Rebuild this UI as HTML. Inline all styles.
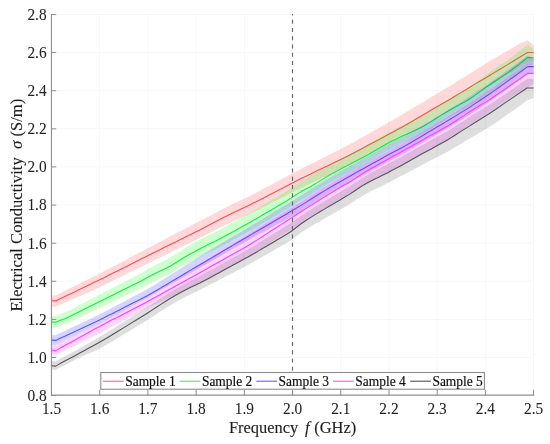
<!DOCTYPE html><html><head><meta charset="utf-8"><style>html,body{margin:0;padding:0;background:#fff}svg{display:block}</style></head><body><svg width="550" height="444" viewBox="0 0 550 444">
<rect width="550" height="444" fill="#fff"/>
<line x1="99.71" y1="14" x2="99.71" y2="395" stroke="#f7f7f7" stroke-width="1"/>
<line x1="147.92" y1="14" x2="147.92" y2="395" stroke="#f7f7f7" stroke-width="1"/>
<line x1="196.13" y1="14" x2="196.13" y2="395" stroke="#f7f7f7" stroke-width="1"/>
<line x1="244.34" y1="14" x2="244.34" y2="395" stroke="#f7f7f7" stroke-width="1"/>
<line x1="292.55" y1="14" x2="292.55" y2="395" stroke="#f7f7f7" stroke-width="1"/>
<line x1="340.76" y1="14" x2="340.76" y2="395" stroke="#f7f7f7" stroke-width="1"/>
<line x1="388.97" y1="14" x2="388.97" y2="395" stroke="#f7f7f7" stroke-width="1"/>
<line x1="437.18" y1="14" x2="437.18" y2="395" stroke="#f7f7f7" stroke-width="1"/>
<line x1="485.39" y1="14" x2="485.39" y2="395" stroke="#f7f7f7" stroke-width="1"/>
<line x1="533.60" y1="14" x2="533.60" y2="395" stroke="#f7f7f7" stroke-width="1"/>
<line x1="51" y1="357.51" x2="534" y2="357.51" stroke="#f7f7f7" stroke-width="1"/>
<line x1="51" y1="319.40" x2="534" y2="319.40" stroke="#f7f7f7" stroke-width="1"/>
<line x1="51" y1="281.28" x2="534" y2="281.28" stroke="#f7f7f7" stroke-width="1"/>
<line x1="51" y1="243.17" x2="534" y2="243.17" stroke="#f7f7f7" stroke-width="1"/>
<line x1="51" y1="205.06" x2="534" y2="205.06" stroke="#f7f7f7" stroke-width="1"/>
<line x1="51" y1="166.95" x2="534" y2="166.95" stroke="#f7f7f7" stroke-width="1"/>
<line x1="51" y1="128.84" x2="534" y2="128.84" stroke="#f7f7f7" stroke-width="1"/>
<line x1="51" y1="90.72" x2="534" y2="90.72" stroke="#f7f7f7" stroke-width="1"/>
<line x1="51" y1="52.61" x2="534" y2="52.61" stroke="#f7f7f7" stroke-width="1"/>
<line x1="51" y1="14.50" x2="534" y2="14.50" stroke="#f7f7f7" stroke-width="1"/>
<polygon points="51.5,295.3 55.8,295.4 60.0,293.2 64.8,290.9 69.6,288.5 74.5,286.1 79.3,283.7 84.1,281.3 88.9,278.9 93.7,276.5 98.6,274.1 100.0,273.4 103.4,271.6 108.2,269.1 113.0,266.5 117.9,264.0 122.7,261.4 127.5,258.9 132.3,256.3 137.1,253.8 142.0,251.2 146.8,248.7 150.0,247.0 151.6,246.2 156.4,243.7 161.2,241.2 166.1,238.6 170.9,236.1 175.7,233.6 180.5,231.1 185.3,228.6 190.2,226.1 195.0,223.6 199.8,221.1 200.0,221.0 204.6,218.5 209.5,216.0 214.3,213.4 219.1,210.8 223.9,208.3 228.7,205.9 233.6,203.6 238.4,201.3 243.2,199.0 248.0,196.7 250.0,195.7 252.8,194.3 257.7,191.8 262.5,189.2 267.3,186.7 272.1,184.2 276.9,181.6 281.8,179.1 286.6,176.6 291.4,174.0 296.2,171.5 300.0,169.6 301.0,169.0 305.9,166.5 310.7,164.1 315.5,161.7 320.3,159.2 325.2,156.8 330.0,154.3 334.8,151.9 339.6,149.5 344.4,147.0 349.3,144.5 350.0,144.1 354.1,141.9 358.9,139.1 363.7,136.4 368.5,133.7 373.4,130.9 378.2,128.2 383.0,125.5 387.8,122.7 392.6,120.0 397.5,117.2 400.0,115.7 402.3,114.4 407.1,111.5 411.9,108.6 416.8,105.7 421.6,102.9 426.4,100.0 431.2,97.1 436.0,94.2 440.9,91.3 445.7,88.4 450.0,85.8 450.5,85.5 455.3,82.5 460.1,79.5 465.0,76.5 469.8,73.5 474.6,70.5 479.4,67.6 484.2,64.6 489.1,61.6 493.9,58.6 495.0,57.9 498.7,55.8 503.5,53.0 508.4,50.3 513.2,47.5 518.0,44.7 520.0,43.6 527.6,40.2 533.6,45.2 533.6,61.5 527.6,62.5 520.0,67.1 518.0,68.3 513.2,71.2 508.4,74.1 503.5,77.1 498.7,80.0 495.0,82.2 493.9,82.9 489.1,85.8 484.2,88.7 479.4,91.5 474.6,94.4 469.8,97.3 465.0,100.2 460.1,103.1 455.3,106.0 450.5,108.9 450.0,109.2 445.7,111.7 440.9,114.5 436.0,117.3 431.2,120.1 426.4,122.9 421.6,125.7 416.8,128.5 411.9,131.4 407.1,134.2 402.3,136.9 400.0,138.2 397.5,139.6 392.6,142.2 387.8,144.8 383.0,147.4 378.2,149.9 373.4,152.5 368.5,155.1 363.7,157.7 358.9,160.2 354.1,162.8 350.0,164.9 349.3,165.3 344.4,167.6 339.6,169.9 334.8,172.2 330.0,174.5 325.2,176.7 320.3,179.0 315.5,181.3 310.7,183.6 305.9,185.8 301.0,188.1 300.0,188.7 296.2,190.5 291.4,192.9 286.6,195.4 281.8,197.8 276.9,200.2 272.1,202.6 267.3,205.1 262.5,207.5 257.7,209.9 252.8,212.3 250.0,213.7 248.0,214.7 243.2,216.9 238.4,219.1 233.6,221.2 228.7,223.4 223.9,225.7 219.1,228.1 214.3,230.5 209.5,233.0 204.6,235.4 200.0,237.8 199.8,237.9 195.0,240.3 190.2,242.7 185.3,245.0 180.5,247.4 175.7,249.8 170.9,252.2 166.1,254.6 161.2,256.9 156.4,259.3 151.6,261.7 150.0,262.5 146.8,264.1 142.0,266.5 137.1,268.8 132.3,271.2 127.5,273.6 122.7,275.9 117.9,278.3 113.0,280.7 108.2,283.1 103.4,285.4 100.0,287.1 98.6,287.7 93.7,289.9 88.9,292.0 84.1,294.2 79.3,296.4 74.5,298.5 69.6,300.7 64.8,302.8 60.0,304.8 55.8,306.9 51.5,306.5" fill="#ff0000" fill-opacity="0.15" stroke="none"/>
<polyline points="51.5,300.7 55.8,300.9 60.0,298.7 64.8,296.5 69.6,294.2 74.5,291.9 79.3,289.6 84.1,287.3 88.9,284.9 93.7,282.6 98.6,280.3 103.4,277.9 108.2,275.5 113.0,273.1 117.9,270.7 122.7,268.3 127.5,265.9 132.3,263.4 137.1,261.0 142.0,258.6 146.8,256.2 151.6,253.8 156.4,251.4 161.2,249.0 166.1,246.6 170.9,244.2 175.7,241.9 180.5,239.5 185.3,237.1 190.2,234.7 195.0,232.3 199.8,229.9 204.6,227.4 209.5,224.8 214.3,222.3 219.1,219.7 223.9,217.2 228.7,214.9 233.6,212.6 238.4,210.3 243.2,208.0 248.0,205.7 252.8,203.3 257.7,200.9 262.5,198.4 267.3,195.9 272.1,193.4 276.9,191.0 281.8,188.5 286.6,186.0 291.4,183.5 296.2,181.1 301.0,178.6 305.9,176.3 310.7,173.9 315.5,171.6 320.3,169.3 325.2,167.0 330.0,164.7 334.8,162.3 339.6,160.0 344.4,157.7 349.3,155.3 354.1,152.8 358.9,150.2 363.7,147.7 368.5,145.1 373.4,142.5 378.2,139.9 383.0,137.4 387.8,134.8 392.6,132.2 397.5,129.6 402.3,126.9 407.1,124.2 411.9,121.4 416.8,118.5 421.6,115.7 426.4,112.9 431.2,110.1 436.0,107.3 440.9,104.5 445.7,101.7 450.5,98.9 455.3,96.0 460.1,93.1 465.0,90.2 469.8,87.3 474.6,84.4 479.4,81.5 484.2,78.7 489.1,75.8 493.9,72.9 498.7,70.0 503.5,67.1 508.4,64.1 513.2,61.2 518.0,58.3 527.6,52.5 533.6,52.5" fill="none" stroke="#ff4a55" stroke-width="1.1" stroke-linejoin="round"/>
<polygon points="51.5,315.9 55.8,316.1 60.0,314.3 64.8,312.5 69.6,310.2 74.5,307.7 79.3,305.2 84.1,302.7 88.9,300.2 93.7,297.8 98.6,295.3 100.0,294.6 103.4,292.8 108.2,290.3 113.0,287.8 117.9,285.3 122.7,282.7 127.5,280.2 132.3,277.7 137.1,275.2 142.0,272.6 146.8,269.8 150.0,268.1 151.6,267.2 156.4,264.6 161.2,262.2 166.1,259.7 170.9,257.1 175.7,254.2 180.5,251.0 185.3,247.9 190.2,245.0 195.0,242.2 199.8,239.5 200.0,239.4 204.6,237.1 209.5,234.8 214.3,232.4 219.1,229.9 223.9,227.3 228.7,224.6 233.6,221.9 238.4,219.3 243.2,216.6 248.0,213.9 250.0,212.8 252.8,211.2 257.7,208.3 262.5,205.5 267.3,202.6 272.1,199.7 276.9,196.8 281.8,194.0 286.6,191.0 291.4,187.8 296.2,184.6 300.0,182.3 301.0,181.6 305.9,178.9 310.7,176.3 315.5,173.5 320.3,170.5 325.2,167.5 330.0,164.6 334.8,162.0 339.6,159.4 344.4,156.9 349.3,154.4 354.1,151.8 358.9,149.3 363.7,146.8 368.5,144.1 373.4,141.3 378.2,138.4 383.0,135.5 387.8,132.9 392.6,130.4 397.5,127.9 400.0,126.7 402.3,125.5 407.1,123.3 411.9,121.0 416.8,118.7 421.6,116.2 426.4,113.6 431.2,110.5 436.0,107.3 440.9,104.1 445.7,101.1 450.0,98.5 450.5,98.2 455.3,95.3 460.1,92.5 465.0,89.7 469.8,86.7 474.6,83.3 479.4,79.8 484.2,76.2 489.1,72.6 493.9,69.2 495.0,68.4 498.7,66.0 503.5,62.8 508.4,59.5 513.2,55.9 518.0,52.2 527.6,44.6 533.6,49.1 533.6,64.6 527.6,65.6 518.0,73.0 513.2,76.6 508.4,80.1 503.5,83.3 498.7,86.4 495.0,88.7 493.9,89.5 489.1,92.7 484.2,96.0 479.4,99.4 474.6,102.8 469.8,106.0 465.0,108.8 460.1,111.4 455.3,114.0 450.5,116.7 450.0,117.0 445.7,119.5 440.9,122.4 436.0,125.5 431.2,128.6 426.4,131.6 421.6,134.2 416.8,136.5 411.9,138.8 407.1,140.9 402.3,143.1 400.0,144.2 397.5,145.4 392.6,147.9 387.8,150.5 383.0,153.2 378.2,156.1 373.4,159.0 368.5,161.9 363.7,164.6 358.9,167.2 354.1,169.8 349.3,172.4 344.4,174.9 339.6,177.5 334.8,180.1 330.0,182.8 325.2,185.7 320.3,188.8 315.5,191.8 310.7,194.7 305.9,197.4 301.0,200.1 300.0,200.8 296.2,203.1 291.4,206.3 286.6,209.4 281.8,212.3 276.9,215.1 272.1,217.9 267.3,220.7 262.5,223.6 257.7,226.4 252.8,229.2 250.0,230.8 248.0,231.9 243.2,234.5 238.4,237.1 233.6,239.7 228.7,242.3 223.9,244.9 219.1,247.5 214.3,249.9 209.5,252.2 204.6,254.5 200.0,256.7 199.8,256.8 195.0,259.3 190.2,261.9 185.3,264.7 180.5,267.6 175.7,270.6 170.9,273.4 166.1,275.8 161.2,278.1 156.4,280.4 151.6,282.7 150.0,283.6 146.8,285.2 142.0,287.7 137.1,290.1 132.3,292.4 127.5,294.7 122.7,297.0 117.9,299.4 113.0,301.7 108.2,304.0 103.4,306.3 100.0,307.9 98.6,308.6 93.7,310.8 88.9,313.1 84.1,315.4 79.3,317.7 74.5,320.1 69.6,322.4 64.8,324.4 60.0,326.2 55.8,327.8 51.5,327.4" fill="#00ff00" fill-opacity="0.19" stroke="none"/>
<polyline points="51.5,321.9 55.8,322.2 60.0,320.5 64.8,318.7 69.6,316.5 74.5,314.1 79.3,311.7 84.1,309.2 88.9,306.8 93.7,304.5 98.6,302.1 103.4,299.7 108.2,297.3 113.0,294.9 117.9,292.5 122.7,290.1 127.5,287.7 132.3,285.3 137.1,282.9 142.0,280.4 146.8,277.8 151.6,275.2 156.4,272.8 161.2,270.5 166.1,268.2 170.9,265.7 175.7,262.8 180.5,259.8 185.3,256.8 190.2,254.0 195.0,251.4 199.8,248.8 204.6,246.4 209.5,244.1 214.3,241.8 219.1,239.3 223.9,236.7 228.7,234.0 233.6,231.4 238.4,228.7 243.2,226.1 248.0,223.4 252.8,220.7 257.7,217.9 262.5,215.1 267.3,212.2 272.1,209.4 276.9,206.6 281.8,203.8 286.6,200.9 291.4,197.8 296.2,194.6 301.0,191.6 305.9,189.0 310.7,186.4 315.5,183.6 320.3,180.6 325.2,177.6 330.0,174.8 334.8,172.2 339.6,169.6 344.4,167.1 349.3,164.6 354.1,162.1 358.9,159.6 363.7,157.1 368.5,154.4 373.4,151.6 378.2,148.8 383.0,146.0 387.8,143.3 392.6,140.8 397.5,138.4 402.3,136.1 407.1,133.9 411.9,131.8 416.8,129.5 421.6,127.2 426.4,124.6 431.2,121.6 436.0,118.5 440.9,115.4 445.7,112.5 450.5,109.7 455.3,107.0 460.1,104.3 465.0,101.7 469.8,98.8 474.6,95.6 479.4,92.1 484.2,88.6 489.1,85.2 493.9,82.0 498.7,78.8 503.5,75.6 508.4,72.4 513.2,68.8 518.0,65.1 527.6,57.6 533.6,57.6" fill="none" stroke="#12ec45" stroke-width="1.1" stroke-linejoin="round"/>
<polygon points="51.5,334.9 55.8,335.2 60.0,333.0 64.8,330.9 69.6,328.6 74.5,326.3 79.3,324.0 84.1,321.7 88.9,319.5 93.7,317.2 98.6,314.8 100.0,314.1 103.4,312.4 108.2,309.9 113.0,307.3 117.9,304.8 122.7,302.2 127.5,299.7 132.3,297.1 137.1,294.6 142.0,292.0 146.8,289.5 150.0,287.6 151.6,286.7 156.4,283.7 161.2,280.7 166.1,277.6 170.9,274.6 175.7,271.5 180.5,268.4 185.3,265.4 190.2,262.3 195.0,259.3 199.8,256.2 200.0,256.1 204.6,253.3 209.5,250.5 214.3,247.6 219.1,244.7 223.9,241.8 228.7,239.0 233.6,236.1 238.4,233.2 243.2,230.4 248.0,227.5 250.0,226.3 252.8,224.6 257.7,221.7 262.5,218.8 267.3,215.8 272.1,212.9 276.9,210.0 281.8,207.1 286.6,204.2 291.4,201.3 296.2,198.4 300.0,196.0 301.0,195.4 305.9,192.3 310.7,189.3 315.5,186.2 320.3,183.2 325.2,180.3 330.0,177.4 334.8,174.6 339.6,171.7 344.4,169.0 349.3,166.2 354.1,163.5 358.9,160.8 363.7,158.1 368.5,155.4 373.4,152.7 378.2,150.0 383.0,147.3 387.8,144.7 392.6,142.2 397.5,139.6 400.0,138.2 402.3,137.0 407.1,134.2 411.9,131.4 416.8,128.5 421.6,125.7 426.4,122.8 431.2,120.0 436.0,117.1 440.9,114.3 445.7,111.4 450.0,108.8 450.5,108.5 455.3,105.6 460.1,102.5 465.0,99.5 469.8,96.4 474.6,93.3 479.4,90.0 484.2,86.8 489.1,83.5 493.9,80.1 498.7,76.7 503.5,73.2 508.4,69.8 513.2,66.3 518.0,62.7 522.0,59.7 527.6,55.6 533.6,58.6 533.6,73.6 527.6,74.6 522.0,78.7 518.0,81.6 513.2,85.1 508.4,88.5 503.5,91.9 498.7,95.3 493.9,98.7 489.1,102.0 484.2,105.2 479.4,108.4 474.6,111.6 469.8,114.7 465.0,117.7 460.1,120.7 455.3,123.6 450.5,126.5 450.0,126.8 445.7,129.4 440.9,132.2 436.0,135.0 431.2,137.8 426.4,140.6 421.6,143.4 416.8,146.2 411.9,149.0 407.1,151.8 402.3,154.5 400.0,155.7 397.5,157.1 392.6,159.5 387.8,162.0 383.0,164.5 378.2,167.2 373.4,169.8 368.5,172.4 363.7,175.0 358.9,177.7 354.1,180.3 349.3,182.9 344.4,185.6 339.6,188.3 334.8,191.1 330.0,193.9 325.2,196.6 320.3,199.5 315.5,202.4 310.7,205.4 305.9,208.4 301.0,211.4 300.0,212.0 296.2,214.1 291.4,216.8 286.6,219.4 281.8,222.0 276.9,224.6 272.1,227.3 267.3,229.9 262.5,232.5 257.7,235.1 252.8,237.8 250.0,239.3 248.0,240.4 243.2,243.2 238.4,245.9 233.6,248.6 228.7,251.3 223.9,254.1 219.1,256.8 214.3,259.5 209.5,262.3 204.6,265.0 200.0,267.6 199.8,267.7 195.0,270.5 190.2,273.2 185.3,276.0 180.5,278.8 175.7,281.5 170.9,284.3 166.1,287.1 161.2,289.8 156.4,292.6 151.6,295.3 150.0,296.1 146.8,298.0 142.0,300.6 137.1,303.2 132.3,305.8 127.5,308.5 122.7,311.1 117.9,313.7 113.0,316.3 108.2,318.9 103.4,321.4 100.0,323.2 98.6,324.0 93.7,326.4 88.9,328.8 84.1,331.1 79.3,333.5 74.5,335.9 69.6,338.3 64.8,340.6 60.0,342.9 55.8,345.1 51.5,344.9" fill="#0000ff" fill-opacity="0.17" stroke="none"/>
<polyline points="51.5,340.1 55.8,340.4 60.0,338.3 64.8,336.2 69.6,333.9 74.5,331.7 79.3,329.5 84.1,327.2 88.9,325.0 93.7,322.7 98.6,320.4 103.4,318.1 108.2,315.6 113.0,313.2 117.9,310.7 122.7,308.2 127.5,305.8 132.3,303.3 137.1,300.9 142.0,298.4 146.8,295.9 151.6,293.3 156.4,290.5 161.2,287.6 166.1,284.8 170.9,281.9 175.7,279.0 180.5,276.2 185.3,273.3 190.2,270.4 195.0,267.6 199.8,264.7 204.6,261.9 209.5,259.1 214.3,256.2 219.1,253.4 223.9,250.6 228.7,247.8 233.6,244.9 238.4,242.1 243.2,239.3 248.0,236.5 252.8,233.6 257.7,230.8 262.5,228.0 267.3,225.2 272.1,222.4 276.9,219.6 281.8,216.7 286.6,213.9 291.4,211.1 296.2,208.3 301.0,205.4 305.9,202.4 310.7,199.3 315.5,196.3 320.3,193.3 325.2,190.4 330.0,187.6 334.8,184.7 339.6,181.9 344.4,179.2 349.3,176.4 354.1,173.7 358.9,171.1 363.7,168.4 368.5,165.7 373.4,163.0 378.2,160.4 383.0,157.7 387.8,155.1 392.6,152.6 397.5,150.1 402.3,147.5 407.1,144.7 411.9,141.9 416.8,139.0 421.6,136.2 426.4,133.3 431.2,130.5 436.0,127.6 440.9,124.8 445.7,121.9 450.5,119.0 455.3,116.1 460.1,113.1 465.0,110.1 469.8,107.1 474.6,103.9 479.4,100.7 484.2,97.5 489.1,94.3 493.9,90.9 498.7,87.5 503.5,84.1 508.4,80.6 513.2,77.2 518.0,73.6 522.0,70.7 527.6,66.6 533.6,66.6" fill="none" stroke="#5555ff" stroke-width="1.1" stroke-linejoin="round"/>
<polygon points="51.5,345.1 55.8,345.2 60.0,343.0 64.8,340.6 69.6,338.2 74.5,335.8 79.3,333.3 84.1,330.9 88.9,328.4 93.7,326.0 98.6,323.5 100.0,322.7 103.4,320.9 108.2,318.3 113.0,315.6 117.9,313.0 122.7,310.3 127.5,307.7 132.3,305.0 137.1,302.4 142.0,299.7 146.8,297.0 150.0,295.1 151.6,294.2 156.4,291.3 161.2,288.3 166.1,285.3 170.9,282.3 175.7,279.3 180.5,276.3 185.3,273.2 190.2,270.2 195.0,267.2 199.8,264.2 200.0,264.1 204.6,261.2 209.5,258.3 214.3,255.3 219.1,252.3 223.9,249.4 228.7,246.4 233.6,243.4 238.4,240.5 243.2,237.5 248.0,234.5 250.0,233.3 252.8,231.6 257.7,228.6 262.5,225.6 267.3,222.7 272.1,219.7 276.9,216.8 281.8,213.8 286.6,210.8 291.4,207.9 296.2,204.9 301.0,201.9 305.9,198.8 310.7,195.8 315.5,192.7 320.3,189.7 325.2,186.8 330.0,183.9 334.8,181.1 339.6,178.2 344.4,175.5 349.3,172.7 350.0,172.3 354.1,170.0 358.9,167.3 363.7,164.6 368.5,161.9 373.4,159.2 378.2,156.5 383.0,153.8 387.8,151.2 392.6,148.7 397.5,146.1 400.0,144.7 402.3,143.5 407.1,140.7 411.9,137.9 416.8,135.0 421.6,132.2 426.4,129.3 431.2,126.5 436.0,123.6 440.9,120.8 445.7,117.9 450.0,115.3 450.5,115.0 455.3,112.1 460.1,109.1 465.0,106.1 469.8,103.1 474.6,99.9 479.4,96.7 484.2,93.5 489.1,90.3 493.9,86.9 498.7,83.5 500.0,82.6 503.5,80.1 508.4,76.6 513.2,73.2 518.0,69.6 527.4,62.7 533.6,62.6 533.6,83.4 527.4,87.9 518.0,93.7 513.2,96.6 508.4,99.6 503.5,102.5 500.0,104.5 498.7,105.5 493.9,109.0 489.1,112.3 484.2,115.5 479.4,118.7 474.6,121.8 469.8,125.0 465.0,128.3 460.1,131.7 455.3,135.0 450.5,138.2 450.0,138.5 445.7,141.1 440.9,143.8 436.0,146.5 431.2,149.1 426.4,151.8 421.6,154.5 416.8,157.2 411.9,159.9 407.1,162.5 402.3,165.2 400.0,166.5 397.5,167.8 392.6,170.2 387.8,172.6 383.0,175.1 378.2,177.5 373.4,179.9 368.5,182.4 363.7,185.1 358.9,187.9 354.1,190.9 350.0,193.2 349.3,193.7 344.4,196.5 339.6,199.2 334.8,202.1 330.0,205.1 325.2,208.1 320.3,211.1 315.5,214.1 310.7,217.1 305.9,220.1 301.0,223.2 296.2,226.2 291.4,229.4 286.6,232.5 281.8,235.6 276.9,238.7 272.1,241.8 267.3,244.9 262.5,248.0 257.7,251.1 252.8,254.2 250.0,255.9 248.0,257.1 243.2,259.8 238.4,262.5 233.6,265.1 228.7,267.8 223.9,270.4 219.1,273.1 214.3,275.8 209.5,278.4 204.6,281.1 200.0,283.6 199.8,283.7 195.0,285.9 190.2,288.1 185.3,290.4 180.5,292.6 175.7,294.8 170.9,297.1 166.1,299.3 161.2,301.5 156.4,303.7 151.6,305.9 150.0,306.6 146.8,308.4 142.0,310.9 137.1,313.5 132.3,316.0 127.5,318.6 122.7,321.1 117.9,323.7 113.0,326.2 108.2,328.8 103.4,331.3 100.0,333.2 98.6,333.9 93.7,336.2 88.9,338.7 84.1,341.1 79.3,343.5 74.5,345.9 69.6,348.4 64.8,350.8 60.0,353.0 55.8,355.3 51.5,354.5" fill="#ff00ff" fill-opacity="0.17" stroke="none"/>
<polyline points="51.5,350.0 55.8,350.6 60.0,348.1 64.8,345.6 69.6,342.9 74.5,340.3 79.3,337.6 84.1,334.9 88.9,332.2 93.7,329.6 98.6,326.9 103.4,324.4 108.2,321.8 113.0,319.3 117.9,316.9 122.7,314.4 127.5,311.9 132.3,309.4 137.1,306.9 142.0,304.4 146.8,301.9 151.6,299.3 156.4,296.7 161.2,294.0 166.1,291.3 170.9,288.7 175.7,286.0 180.5,283.4 185.3,280.7 190.2,278.0 195.0,275.4 199.8,272.7 204.6,270.0 209.5,267.3 214.3,264.6 219.1,261.9 223.9,259.2 228.7,256.5 233.6,253.8 238.4,251.1 243.2,248.4 248.0,245.6 252.8,242.7 257.7,239.6 262.5,236.5 267.3,233.4 272.1,230.3 276.9,227.2 281.8,224.1 286.6,221.0 291.4,217.9 296.2,214.7 301.0,211.7 305.9,208.6 310.7,205.6 315.5,202.6 320.3,199.6 325.2,196.6 330.0,193.6 334.8,190.6 339.6,187.7 344.4,185.0 349.3,182.2 354.1,179.1 358.9,176.0 363.7,172.9 368.5,170.0 373.4,167.3 378.2,164.6 383.0,161.9 387.8,159.3 392.6,156.6 397.5,153.9 402.3,151.2 407.1,148.5 411.9,145.9 416.8,143.2 421.6,140.5 426.4,137.8 431.2,135.1 436.0,132.5 440.9,129.8 445.7,127.1 450.5,124.2 455.3,121.2 460.1,118.1 465.0,114.9 469.8,111.8 474.6,108.8 479.4,105.8 484.2,102.9 489.1,99.9 493.9,96.7 498.7,93.4 503.5,90.1 508.4,86.8 513.2,83.4 518.0,80.1 527.4,73.4 533.6,73.4" fill="none" stroke="#ff3cff" stroke-width="1.1" stroke-linejoin="round"/>
<polygon points="51.5,360.8 55.8,361.2 60.0,358.8 64.8,356.3 69.6,353.8 74.5,351.3 78.0,349.4 79.3,348.6 84.1,345.8 88.9,343.0 93.7,340.2 98.6,337.3 100.0,336.4 103.4,334.4 108.2,331.5 113.0,328.5 117.9,325.6 122.7,322.6 127.5,319.6 132.3,316.6 137.1,313.6 142.0,310.5 146.8,307.5 150.0,305.4 151.6,304.4 156.4,301.2 161.2,298.0 166.1,294.7 170.9,291.7 175.7,288.8 180.5,286.0 185.3,283.4 190.2,280.9 195.0,278.4 199.8,275.9 200.0,275.7 204.6,273.3 209.5,270.6 214.3,268.0 219.1,265.3 223.9,262.6 228.7,260.0 233.6,257.3 238.4,254.7 243.2,252.0 248.0,249.3 250.0,248.1 252.8,246.5 257.7,243.5 262.5,240.5 267.3,237.6 272.1,234.6 276.9,231.6 281.8,228.6 286.6,225.6 291.4,222.5 296.2,219.1 300.0,216.4 301.0,215.7 305.9,212.5 310.7,209.5 315.5,206.5 320.3,203.5 325.2,200.6 330.0,197.7 334.8,194.8 339.6,191.9 344.4,189.1 349.3,186.3 350.0,185.8 354.1,183.2 358.9,180.0 363.7,176.9 368.5,174.1 373.4,171.5 378.2,169.0 383.0,166.5 387.8,164.0 392.6,161.3 397.5,158.7 400.0,157.3 402.3,156.1 407.1,153.4 411.9,150.7 416.8,148.0 421.6,145.3 426.4,142.7 431.2,140.0 436.0,137.3 440.9,134.7 445.7,132.0 450.0,129.5 450.5,129.2 455.3,126.1 460.1,123.0 465.0,119.9 469.8,116.8 474.6,113.8 479.4,110.8 484.2,107.9 489.1,104.8 490.0,104.2 493.9,101.6 498.7,98.3 500.0,97.4 503.5,95.0 508.4,91.7 513.2,88.4 518.0,85.1 527.0,78.8 533.6,78.7 533.6,98.0 527.0,100.5 518.0,106.9 513.2,110.4 508.4,113.8 503.5,117.3 500.0,119.8 498.7,120.7 493.9,124.0 490.0,126.6 489.1,127.2 484.2,130.1 479.4,132.9 474.6,135.8 469.8,138.6 465.0,141.4 460.1,144.3 455.3,147.2 450.5,150.1 450.0,150.4 445.7,152.8 440.9,155.3 436.0,157.8 431.2,160.3 426.4,162.8 421.6,165.3 416.8,167.8 411.9,170.4 407.1,172.9 402.3,175.5 400.0,176.6 397.5,178.0 392.6,180.5 387.8,183.0 383.0,185.4 378.2,187.7 373.4,190.0 368.5,192.4 363.7,195.0 358.9,198.1 354.1,201.3 350.0,203.9 349.3,204.4 344.4,207.2 339.6,209.9 334.8,212.7 330.0,215.4 325.2,218.1 320.3,220.9 315.5,223.7 310.7,226.6 305.9,229.6 301.0,232.8 300.0,233.5 296.2,236.4 291.4,240.0 286.6,243.0 281.8,245.8 276.9,248.6 272.1,251.3 267.3,254.1 262.5,256.8 257.7,259.5 252.8,262.3 250.0,263.8 248.0,264.9 243.2,267.5 238.4,270.0 233.6,272.5 228.7,275.0 223.9,277.5 219.1,280.1 214.3,282.6 209.5,285.1 204.6,287.6 200.0,289.9 199.8,290.0 195.0,292.3 190.2,294.6 185.3,296.9 180.5,299.5 175.7,302.2 170.9,305.0 166.1,308.0 161.2,311.1 156.4,314.3 151.6,317.4 150.0,318.4 146.8,320.4 142.0,323.4 137.1,326.3 132.3,329.3 127.5,332.2 122.7,335.1 117.9,338.0 113.0,340.9 108.2,343.7 103.4,346.6 100.0,348.5 98.6,349.2 93.7,351.4 88.9,353.5 84.1,355.6 79.3,357.7 78.0,358.3 74.5,360.1 69.6,362.7 64.8,365.2 60.0,367.6 55.8,370.0 51.5,369.6" fill="#000000" fill-opacity="0.13" stroke="none"/>
<polyline points="51.5,365.8 55.8,366.1 60.0,363.6 64.8,361.1 69.6,358.5 74.5,355.9 79.3,353.3 84.1,350.7 88.9,348.1 93.7,345.5 98.6,342.8 103.4,340.0 108.2,337.2 113.0,334.3 117.9,331.3 122.7,328.4 127.5,325.4 132.3,322.4 137.1,319.5 142.0,316.5 146.8,313.5 151.6,310.4 156.4,307.3 161.2,304.1 166.1,301.0 170.9,298.0 175.7,295.2 180.5,292.5 185.3,289.9 190.2,287.6 195.0,285.3 199.8,283.0 204.6,280.5 209.5,277.9 214.3,275.3 219.1,272.7 223.9,270.1 228.7,267.4 233.6,264.8 238.4,262.2 243.2,259.6 248.0,256.9 252.8,254.2 257.7,251.4 262.5,248.5 267.3,245.7 272.1,242.9 276.9,240.0 281.8,237.2 286.6,234.3 291.4,231.2 296.2,227.5 301.0,223.7 305.9,220.5 310.7,217.4 315.5,214.4 320.3,211.5 325.2,208.6 330.0,205.8 334.8,203.0 339.6,200.2 344.4,197.3 349.3,194.4 354.1,191.3 358.9,188.0 363.7,184.9 368.5,182.2 373.4,179.8 378.2,177.5 383.0,175.1 387.8,172.7 392.6,170.1 397.5,167.5 402.3,164.9 407.1,162.2 411.9,159.5 416.8,156.8 421.6,154.1 426.4,151.5 431.2,148.9 436.0,146.2 440.9,143.6 445.7,140.9 450.5,138.1 455.3,135.0 460.1,131.9 465.0,128.9 469.8,125.9 474.6,122.8 479.4,119.8 484.2,116.8 489.1,113.7 493.9,110.5 498.7,107.2 503.5,103.9 508.4,100.6 513.2,97.4 518.0,94.1 527.0,88.0 533.6,88.0" fill="none" stroke="#555555" stroke-width="1.1" stroke-linejoin="round"/>
<line x1="292.5" y1="14" x2="292.5" y2="395" stroke="#666" stroke-width="1.15" stroke-dasharray="4.0 4.26" stroke-dashoffset="2.5"/>
<line x1="51.45" y1="14" x2="51.45" y2="395.8" stroke="#8e8e8e" stroke-width="1.1"/>
<line x1="51" y1="395.2" x2="534.2" y2="395.2" stroke="#8e8e8e" stroke-width="1.2"/>
<line x1="51" y1="395.62" x2="56.2" y2="395.62" stroke="#8e8e8e" stroke-width="1"/>
<line x1="51" y1="357.51" x2="56.2" y2="357.51" stroke="#8e8e8e" stroke-width="1"/>
<line x1="51" y1="319.40" x2="56.2" y2="319.40" stroke="#8e8e8e" stroke-width="1"/>
<line x1="51" y1="281.28" x2="56.2" y2="281.28" stroke="#8e8e8e" stroke-width="1"/>
<line x1="51" y1="243.17" x2="56.2" y2="243.17" stroke="#8e8e8e" stroke-width="1"/>
<line x1="51" y1="205.06" x2="56.2" y2="205.06" stroke="#8e8e8e" stroke-width="1"/>
<line x1="51" y1="166.95" x2="56.2" y2="166.95" stroke="#8e8e8e" stroke-width="1"/>
<line x1="51" y1="128.84" x2="56.2" y2="128.84" stroke="#8e8e8e" stroke-width="1"/>
<line x1="51" y1="90.72" x2="56.2" y2="90.72" stroke="#8e8e8e" stroke-width="1"/>
<line x1="51" y1="52.61" x2="56.2" y2="52.61" stroke="#8e8e8e" stroke-width="1"/>
<line x1="51" y1="14.50" x2="56.2" y2="14.50" stroke="#8e8e8e" stroke-width="1"/>
<line x1="51.50" y1="389.8" x2="51.50" y2="395.2" stroke="#8e8e8e" stroke-width="1"/>
<line x1="99.71" y1="389.8" x2="99.71" y2="395.2" stroke="#8e8e8e" stroke-width="1"/>
<line x1="147.92" y1="389.8" x2="147.92" y2="395.2" stroke="#8e8e8e" stroke-width="1"/>
<line x1="196.13" y1="389.8" x2="196.13" y2="395.2" stroke="#8e8e8e" stroke-width="1"/>
<line x1="244.34" y1="389.8" x2="244.34" y2="395.2" stroke="#8e8e8e" stroke-width="1"/>
<line x1="292.55" y1="389.8" x2="292.55" y2="395.2" stroke="#8e8e8e" stroke-width="1"/>
<line x1="340.76" y1="389.8" x2="340.76" y2="395.2" stroke="#8e8e8e" stroke-width="1"/>
<line x1="388.97" y1="389.8" x2="388.97" y2="395.2" stroke="#8e8e8e" stroke-width="1"/>
<line x1="437.18" y1="389.8" x2="437.18" y2="395.2" stroke="#8e8e8e" stroke-width="1"/>
<line x1="485.39" y1="389.8" x2="485.39" y2="395.2" stroke="#8e8e8e" stroke-width="1"/>
<line x1="533.60" y1="389.8" x2="533.60" y2="395.2" stroke="#8e8e8e" stroke-width="1"/>
<text transform="translate(46.6,401.02) scale(0.955,1)" text-anchor="end" style="font-family:&quot;Liberation Serif&quot;,&quot;Times New Roman&quot;,serif;font-size:16.1px" fill="#222" stroke="#222" stroke-width="0.05">0.8</text>
<text transform="translate(46.6,362.91) scale(0.955,1)" text-anchor="end" style="font-family:&quot;Liberation Serif&quot;,&quot;Times New Roman&quot;,serif;font-size:16.1px" fill="#222" stroke="#222" stroke-width="0.05">1.0</text>
<text transform="translate(46.6,324.80) scale(0.955,1)" text-anchor="end" style="font-family:&quot;Liberation Serif&quot;,&quot;Times New Roman&quot;,serif;font-size:16.1px" fill="#222" stroke="#222" stroke-width="0.05">1.2</text>
<text transform="translate(46.6,286.68) scale(0.955,1)" text-anchor="end" style="font-family:&quot;Liberation Serif&quot;,&quot;Times New Roman&quot;,serif;font-size:16.1px" fill="#222" stroke="#222" stroke-width="0.05">1.4</text>
<text transform="translate(46.6,248.57) scale(0.955,1)" text-anchor="end" style="font-family:&quot;Liberation Serif&quot;,&quot;Times New Roman&quot;,serif;font-size:16.1px" fill="#222" stroke="#222" stroke-width="0.05">1.6</text>
<text transform="translate(46.6,210.46) scale(0.955,1)" text-anchor="end" style="font-family:&quot;Liberation Serif&quot;,&quot;Times New Roman&quot;,serif;font-size:16.1px" fill="#222" stroke="#222" stroke-width="0.05">1.8</text>
<text transform="translate(46.6,172.35) scale(0.955,1)" text-anchor="end" style="font-family:&quot;Liberation Serif&quot;,&quot;Times New Roman&quot;,serif;font-size:16.1px" fill="#222" stroke="#222" stroke-width="0.05">2.0</text>
<text transform="translate(46.6,134.24) scale(0.955,1)" text-anchor="end" style="font-family:&quot;Liberation Serif&quot;,&quot;Times New Roman&quot;,serif;font-size:16.1px" fill="#222" stroke="#222" stroke-width="0.05">2.2</text>
<text transform="translate(46.6,96.12) scale(0.955,1)" text-anchor="end" style="font-family:&quot;Liberation Serif&quot;,&quot;Times New Roman&quot;,serif;font-size:16.1px" fill="#222" stroke="#222" stroke-width="0.05">2.4</text>
<text transform="translate(46.6,58.01) scale(0.955,1)" text-anchor="end" style="font-family:&quot;Liberation Serif&quot;,&quot;Times New Roman&quot;,serif;font-size:16.1px" fill="#222" stroke="#222" stroke-width="0.05">2.6</text>
<text transform="translate(46.6,19.90) scale(0.955,1)" text-anchor="end" style="font-family:&quot;Liberation Serif&quot;,&quot;Times New Roman&quot;,serif;font-size:16.1px" fill="#222" stroke="#222" stroke-width="0.05">2.8</text>
<text transform="translate(51.50,413.9) scale(0.955,1)" text-anchor="middle" style="font-family:&quot;Liberation Serif&quot;,&quot;Times New Roman&quot;,serif;font-size:16.1px" fill="#222" stroke="#222" stroke-width="0.05">1.5</text>
<text transform="translate(99.71,413.9) scale(0.955,1)" text-anchor="middle" style="font-family:&quot;Liberation Serif&quot;,&quot;Times New Roman&quot;,serif;font-size:16.1px" fill="#222" stroke="#222" stroke-width="0.05">1.6</text>
<text transform="translate(147.92,413.9) scale(0.955,1)" text-anchor="middle" style="font-family:&quot;Liberation Serif&quot;,&quot;Times New Roman&quot;,serif;font-size:16.1px" fill="#222" stroke="#222" stroke-width="0.05">1.7</text>
<text transform="translate(196.13,413.9) scale(0.955,1)" text-anchor="middle" style="font-family:&quot;Liberation Serif&quot;,&quot;Times New Roman&quot;,serif;font-size:16.1px" fill="#222" stroke="#222" stroke-width="0.05">1.8</text>
<text transform="translate(244.34,413.9) scale(0.955,1)" text-anchor="middle" style="font-family:&quot;Liberation Serif&quot;,&quot;Times New Roman&quot;,serif;font-size:16.1px" fill="#222" stroke="#222" stroke-width="0.05">1.9</text>
<text transform="translate(292.55,413.9) scale(0.955,1)" text-anchor="middle" style="font-family:&quot;Liberation Serif&quot;,&quot;Times New Roman&quot;,serif;font-size:16.1px" fill="#222" stroke="#222" stroke-width="0.05">2.0</text>
<text transform="translate(340.76,413.9) scale(0.955,1)" text-anchor="middle" style="font-family:&quot;Liberation Serif&quot;,&quot;Times New Roman&quot;,serif;font-size:16.1px" fill="#222" stroke="#222" stroke-width="0.05">2.1</text>
<text transform="translate(388.97,413.9) scale(0.955,1)" text-anchor="middle" style="font-family:&quot;Liberation Serif&quot;,&quot;Times New Roman&quot;,serif;font-size:16.1px" fill="#222" stroke="#222" stroke-width="0.05">2.2</text>
<text transform="translate(437.18,413.9) scale(0.955,1)" text-anchor="middle" style="font-family:&quot;Liberation Serif&quot;,&quot;Times New Roman&quot;,serif;font-size:16.1px" fill="#222" stroke="#222" stroke-width="0.05">2.3</text>
<text transform="translate(485.39,413.9) scale(0.955,1)" text-anchor="middle" style="font-family:&quot;Liberation Serif&quot;,&quot;Times New Roman&quot;,serif;font-size:16.1px" fill="#222" stroke="#222" stroke-width="0.05">2.4</text>
<text transform="translate(533.60,413.9) scale(0.955,1)" text-anchor="middle" style="font-family:&quot;Liberation Serif&quot;,&quot;Times New Roman&quot;,serif;font-size:16.1px" fill="#222" stroke="#222" stroke-width="0.05">2.5</text>
<text x="292.6" y="433.4" text-anchor="middle" style="font-family:&quot;Liberation Serif&quot;,&quot;Times New Roman&quot;,serif;font-size:16.45px" fill="#1e1e1e" stroke="#1e1e1e" stroke-width="0.12">Frequency&#160; <tspan font-style="italic" dx="-1.5">f</tspan><tspan dx="0.5"> (GHz)</tspan></text>
<text transform="translate(22.3,205.2) rotate(-90)" x="0" y="0" text-anchor="middle" style="font-family:&quot;Liberation Serif&quot;,&quot;Times New Roman&quot;,serif;font-size:16.6px" fill="#1e1e1e" stroke="#1e1e1e" stroke-width="0.12">Electrical Conductivity&#160; <tspan font-style="italic">σ</tspan> (S/m)</text>
<rect x="100.8" y="372.5" width="383.6" height="16.7" fill="#fff" stroke="#8c8c8c" stroke-width="1.1"/>
<line x1="103" y1="381.2" x2="123.7" y2="381.2" stroke="#ff5a5a" stroke-width="1"/>
<text transform="translate(125.20,385.5) scale(0.955,1)" style="font-family:&quot;Liberation Serif&quot;,&quot;Times New Roman&quot;,serif;font-size:14.1px" fill="#111" stroke="#111" stroke-width="0.2">Sample 1</text>
<line x1="179.7" y1="381.2" x2="200.39999999999998" y2="381.2" stroke="#3ae84a" stroke-width="1"/>
<text transform="translate(201.90,385.5) scale(0.955,1)" style="font-family:&quot;Liberation Serif&quot;,&quot;Times New Roman&quot;,serif;font-size:14.1px" fill="#111" stroke="#111" stroke-width="0.2">Sample 2</text>
<line x1="256.4" y1="381.2" x2="277.09999999999997" y2="381.2" stroke="#5050ff" stroke-width="1"/>
<text transform="translate(278.60,385.5) scale(0.955,1)" style="font-family:&quot;Liberation Serif&quot;,&quot;Times New Roman&quot;,serif;font-size:14.1px" fill="#111" stroke="#111" stroke-width="0.2">Sample 3</text>
<line x1="333.1" y1="381.2" x2="353.8" y2="381.2" stroke="#ff40ff" stroke-width="1"/>
<text transform="translate(355.30,385.5) scale(0.955,1)" style="font-family:&quot;Liberation Serif&quot;,&quot;Times New Roman&quot;,serif;font-size:14.1px" fill="#111" stroke="#111" stroke-width="0.2">Sample 4</text>
<line x1="410.2" y1="381.2" x2="430.9" y2="381.2" stroke="#404040" stroke-width="1"/>
<text transform="translate(432.40,385.5) scale(0.955,1)" style="font-family:&quot;Liberation Serif&quot;,&quot;Times New Roman&quot;,serif;font-size:14.1px" fill="#111" stroke="#111" stroke-width="0.2">Sample 5</text>
</svg></body></html>
